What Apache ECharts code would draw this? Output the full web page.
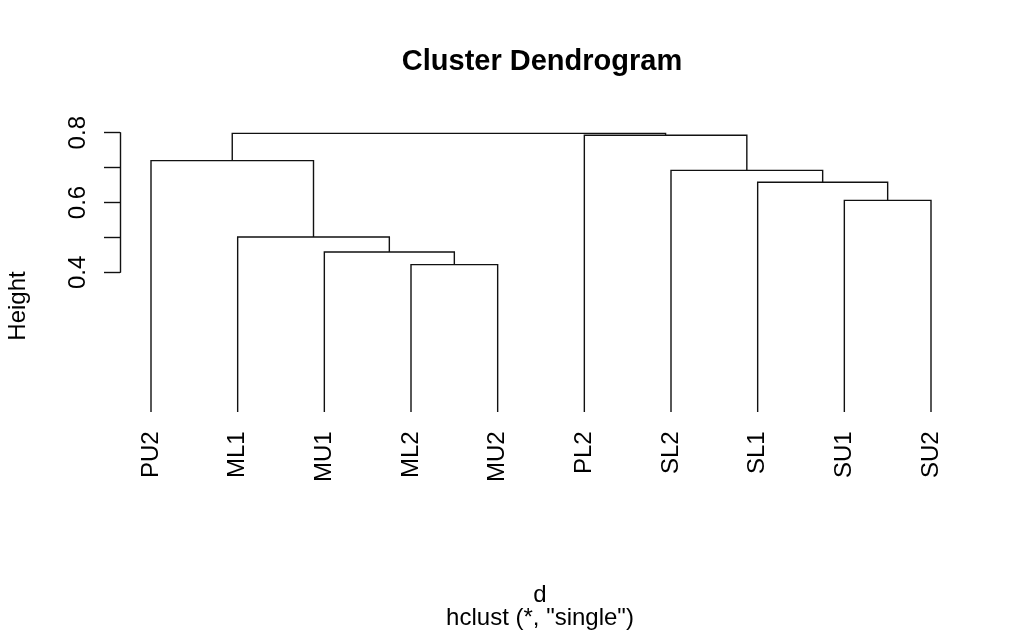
<!DOCTYPE html>
<html><head><meta charset="utf-8">
<script src="https://cdn.jsdelivr.net/npm/echarts@6/dist/echarts.min.js"></script>
<style>html,body{margin:0;padding:0;background:#fff}#c{width:1024px;height:641px}</style>
</head><body><div id="c"></div>
<script>
// Leaves in dendrogram order
const leafLabels = ['PU2','ML1','MU1','ML2','MU2','PL2','SL2','SL1','SU1','SU2'];
// R-style merge matrix: negative = leaf (1-based index into leafLabels), positive = earlier merge step
const mergeLeft   = [-4, -3, -2, -9, -8, -7, -1, -6, 7];
const mergeRight  = [-5,  1,  2, -10, 4,  5,  3,  6, 8];
const mergeHeight = [0.422, 0.458, 0.501, 0.606, 0.658, 0.692, 0.720, 0.7925, 0.798];
const yTickLabels = [0.4, 0.6, 0.8];

const FONT = 'Liberation Sans, Arial, Helvetica, sans-serif';
const INK = '#111';

// node positions in data units (leaf index, height)
function nodeOf(ref, nodes) {
  if (ref < 0) return { x: -ref - 1, h: 0 };
  return nodes[ref - 1];
}
const nodes = [];
const links = [];
for (let j = 0; j < mergeHeight.length; j++) {
  const a = nodeOf(mergeLeft[j], nodes);
  const b = nodeOf(mergeRight[j], nodes);
  const h = mergeHeight[j];
  nodes.push({ x: (a.x + b.x) / 2, h: h });
  links.push([a.x, b.x, h, a.h, b.h]);
}

const chart = echarts.init(document.getElementById('c'), null, { renderer: 'canvas' });
chart.setOption({
  backgroundColor: '#fff',
  animation: false,
  grid: [
    { left: 151, right: 93, top: 132.7, bottom: 229.1, outerBoundsMode: 'none', containLabel: false },
    { left: 120, width: 10, top: 132.7, bottom: 368.7, outerBoundsMode: 'none', containLabel: false }
  ],
  xAxis: [
    {
      gridIndex: 0, type: 'value', min: 0, max: 9, interval: 1,
      axisLine: { show: false }, axisTick: { show: false }, splitLine: { show: false },
      axisLabel: {
        show: true, rotate: 90, margin: 19.5, color: '#000', fontSize: 24, fontFamily: FONT,
        showMinLabel: true, showMaxLabel: true, hideOverlap: false,
        padding: [0, 0, 5, 0],
        formatter: function (v) { return leafLabels[Math.round(v)] || ''; }
      }
    },
    { gridIndex: 1, type: 'value', min: 0, max: 1, show: false }
  ],
  yAxis: [
    { gridIndex: 0, type: 'value', min: 0, max: 0.8, show: false },
    {
      gridIndex: 1, type: 'value', min: 0.4, max: 0.8, interval: 0.1, position: 'left',
      axisLine: { show: true, lineStyle: { color: INK, width: 1.4 } },
      axisTick: { show: true, length: 16, inside: false, lineStyle: { color: INK, width: 1.4 } },
      splitLine: { show: false },
      axisLabel: {
        show: true, rotate: 90, margin: 30, color: '#000', fontSize: 24, fontFamily: FONT,
        showMinLabel: true, showMaxLabel: true, hideOverlap: false,
        formatter: function (v) {
          for (const t of yTickLabels) { if (Math.abs(v - t) < 1e-6) return t.toFixed(1); }
          return '';
        }
      }
    }
  ],
  series: [{
    type: 'custom',
    xAxisIndex: 0, yAxisIndex: 0,
    data: links,
    silent: true,
    renderItem: function (params, api) {
      const xl = api.value(0), xr = api.value(1), h = api.value(2), hl = api.value(3), hr = api.value(4);
      const p1 = api.coord([xl, hl]), p2 = api.coord([xl, h]), p3 = api.coord([xr, h]), p4 = api.coord([xr, hr]);
      return {
        type: 'polyline',
        shape: { points: [p1, p2, p3, p4] },
        style: { stroke: INK, lineWidth: 1.4, fill: null }
      };
    }
  }],
  graphic: [
    { type: 'text', x: 542, y: 62, silent: true,
      style: { text: 'Cluster Dendrogram', font: 'bold 29px ' + FONT, fill: '#000', align: 'center', verticalAlign: 'middle' } },
    { type: 'text', x: 18, y: 306, rotation: Math.PI / 2, silent: true,
      style: { text: 'Height', font: '24px ' + FONT, fill: '#000', align: 'center', verticalAlign: 'middle' } },
    { type: 'text', x: 540, y: 595.6, silent: true,
      style: { text: 'd', font: '24px ' + FONT, fill: '#000', align: 'center', verticalAlign: 'middle' } },
    { type: 'text', x: 540, y: 618, silent: true,
      style: { text: 'hclust (*, "single")', font: '24px ' + FONT, fill: '#000', align: 'center', verticalAlign: 'middle' } }
  ]
});
</script>
</body></html>
